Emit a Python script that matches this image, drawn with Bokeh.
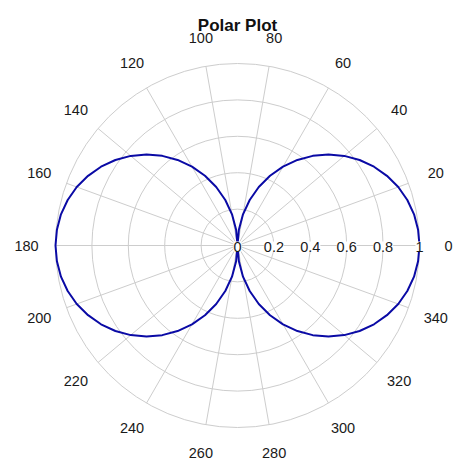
import math
from bokeh.plotting import figure
from bokeh.core.properties import value
from bokeh.embed import file_html
from bokeh.resources import INLINE

# Data: angle (deg) and radius
theta_deg = list(range(0, 361, 5))
r_vals = [1.000, 0.996, 0.985, 0.966, 0.940, 0.906, 0.866, 0.819, 0.766, 0.707,
          0.643, 0.574, 0.500, 0.423, 0.342, 0.259, 0.174, 0.087, 0.000,
          0.087, 0.174, 0.259, 0.342, 0.423, 0.500, 0.574, 0.643, 0.707,
          0.766, 0.819, 0.866, 0.906, 0.940, 0.966, 0.985, 0.996, 1.000,
          0.996, 0.985, 0.966, 0.940, 0.906, 0.866, 0.819, 0.766, 0.707,
          0.643, 0.574, 0.500, 0.423, 0.342, 0.259, 0.174, 0.087, 0.000,
          0.087, 0.174, 0.259, 0.342, 0.423, 0.500, 0.574, 0.643, 0.707,
          0.766, 0.819, 0.866, 0.906, 0.940, 0.966, 0.985, 0.996, 1.000]
ring_vals = [0.2, 0.4, 0.6, 0.8, 1.0]
ring_labels = ["0", "0.2", "0.4", "0.6", "0.8", "1"]
ring_label_pos = [0.0, 0.2, 0.4, 0.6, 0.8, 1.0]
spoke_angles = list(range(0, 360, 20))
spoke_labels = [str(a) for a in spoke_angles]
title_text = "Polar Plot"

W, H = 466, 465
scale = 182.0
cx, cy = 237.0, 245.0
x_start, x_end = -cx / scale, (W - cx) / scale
y_end, y_start = cy / scale, -(H - cy) / scale

p = figure(width=W, height=H, x_range=(x_start, x_end), y_range=(y_start, y_end),
           output_backend="svg", toolbar_location=None, min_border=0)
p.axis.visible = False
p.grid.visible = False
p.outline_line_color = None
p.background_fill_color = "white"
p.border_fill_color = "white"

grid_col = "#cdcdcd"
# spokes
xs_sp, ys_sp = [], []
for a in spoke_angles:
    t = math.radians(a)
    xs_sp.append([0, math.cos(t)])
    ys_sp.append([0, math.sin(t)])
p.multi_line(xs_sp, ys_sp, line_color=grid_col, line_width=1)
# rings
p.circle(x=[0] * len(ring_vals), y=[0] * len(ring_vals), radius=ring_vals,
         fill_color=None, line_color=grid_col, line_width=1)

# curve
xs = [r * math.cos(math.radians(t)) for t, r in zip(theta_deg, r_vals)]
ys = [r * math.sin(math.radians(t)) for t, r in zip(theta_deg, r_vals)]
p.line(xs, ys, line_color="#0a0aa5", line_width=2)

# radial labels
p.text(x=ring_label_pos, y=[0] * len(ring_label_pos), text=ring_labels,
       text_font=value("Liberation Sans"), text_font_size="14.5px",
       text_align="center", text_baseline="middle", text_color="#1a1a1a",
       background_fill_color="white", y_offset=1)

# angle labels
lr = 211.0 / scale
lx = [lr * math.cos(math.radians(a)) for a in spoke_angles]
ly = [lr * math.sin(math.radians(a)) for a in spoke_angles]
p.text(x=lx, y=ly, text=spoke_labels, text_font=value("Liberation Sans"),
       text_font_size="14.5px", text_align="center", text_baseline="middle",
       text_color="#1a1a1a")

# title
p.text(x=[0], y=[(cy - 25.0) / scale], text=[title_text],
       text_font=value("Liberation Sans"), text_font_size="17px",
       text_font_style="bold", text_align="center", text_baseline="middle",
       text_color="#111111")

open("out.html", "w").write(file_html(p, INLINE))
